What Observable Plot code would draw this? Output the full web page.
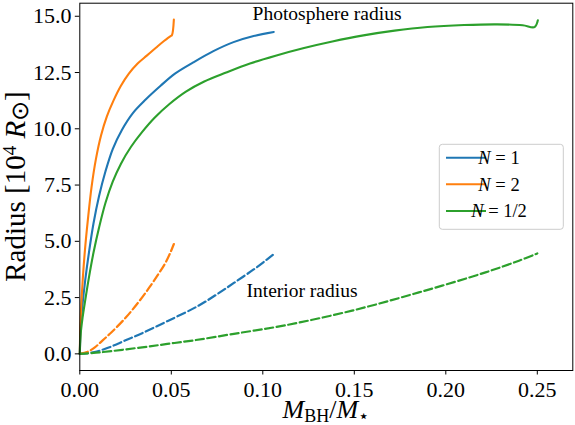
<!DOCTYPE html>
<html>
<head>
<meta charset="utf-8">
<script src="https://cdn.jsdelivr.net/npm/d3@7"></script>
<script src="https://cdn.jsdelivr.net/npm/@observablehq/plot@0.6"></script>
<style>
  html, body { margin: 0; padding: 0; background: white; overflow: hidden; }
  svg { display: block; }
  svg, svg text, svg tspan { font-family: "Liberation Serif", "Times New Roman", serif !important; }
</style>
</head>
<body>
<div id="chart"></div>
<script>
// ---- data ----
const seriesNames = ["N=1", "N=2", "N=1/2"];
const legendValues = ["1", "2", "1/2"];
const seriesColors = ["#1f77b4", "#ff7f0e", "#2ca02c"];
const xTicks = [0, 0.05, 0.10, 0.15, 0.20, 0.25];
const yTicks = [0, 2.5, 5, 7.5, 10, 12.5, 15];

// photosphere radius (solid), [M_BH/M_star, radius / 1e4 Rsun]
const photoN1 = [[0,0],[0.0005,1.2],[0.0015,2.2],[0.003,3.3],[0.005,4.5],[0.0075,5.8],[0.0105,7.0],[0.014,8.1],[0.018,9.1],[0.023,9.95],[0.029,10.7],[0.036,11.3],[0.044,11.9],[0.052,12.45],[0.062,12.95],[0.073,13.45],[0.084,13.85],[0.095,14.12],[0.106,14.3]];
const photoN2 = [[0,0],[0.0003,1.2],[0.0008,2.2],[0.0016,3.3],[0.0028,4.6],[0.0044,5.95],[0.0064,7.4],[0.0088,8.65],[0.0116,9.7],[0.0148,10.55],[0.0184,11.25],[0.0224,11.9],[0.0268,12.45],[0.0316,12.9],[0.0366,13.25],[0.0416,13.6],[0.0460,13.9],[0.0496,14.12],[0.0503,14.15],[0.0514,14.85]];
const photoNhalf = [[0,0],[0.0005,0.9],[0.0015,1.6],[0.003,2.4],[0.005,3.4],[0.0075,4.5],[0.0105,5.6],[0.014,6.7],[0.018,7.65],[0.0225,8.45],[0.028,9.2],[0.034,9.85],[0.041,10.5],[0.049,11.1],[0.058,11.65],[0.068,12.1],[0.080,12.5],[0.093,12.9],[0.107,13.25],[0.122,13.58],[0.138,13.88],[0.155,14.15],[0.172,14.36],[0.19,14.52],[0.21,14.61],[0.228,14.64],[0.242,14.6],[0.2485,14.52],[0.2503,14.82]];

// interior radius (dashed)
const interiorN1 = [[0,0],[0.0080,0.08],[0.0158,0.28],[0.0250,0.6],[0.0341,0.92],[0.0478,1.45],[0.0640,2.1],[0.0750,2.65],[0.0842,3.15],[0.0950,3.75],[0.1024,4.2],[0.1060,4.43]];
const interiorN2 = [[0,0],[0.0045,0.1],[0.0084,0.3],[0.0125,0.6],[0.0172,0.95],[0.0250,1.6],[0.0321,2.3],[0.0380,2.95],[0.0430,3.55],[0.0465,4.0],[0.0495,4.5],[0.0514,4.88]];
const interiorNhalf = [[0,0],[0.0113,0.07],[0.0341,0.29],[0.0478,0.44],[0.0623,0.6],[0.0842,0.89],[0.1124,1.27],[0.1488,1.92],[0.1853,2.73],[0.2217,3.62],[0.2400,4.14],[0.2500,4.46]];

const annotations = [
  {x: 0.0944, y: 15.09, text: "Photosphere radius"},
  {x: 0.0911, y: 2.79, text: "Interior radius"}
];

// ---- build rows ----
const photo = [photoN1, photoN2, photoNhalf];
const interior = [interiorN1, interiorN2, interiorNhalf];
const toRows = (arr, s) => arr.map(([x, y]) => ({x, y, series: s}));
const FONT = "Liberation Serif";

const marks = [];
seriesNames.forEach((s, i) => {
  marks.push(Plot.line(toRows(photo[i], s), {x: "x", y: "y", stroke: "series", strokeWidth: 2.1, curve: "catmull-rom"}));
  marks.push(Plot.line(toRows(interior[i], s), {x: "x", y: "y", stroke: "series", strokeWidth: 2.2, strokeDasharray: "8.2,3.5", curve: "catmull-rom"}));
});

const svg = Plot.plot({
  width: 575,
  height: 425,
  marginLeft: 79.3,
  marginRight: 2.7,
  marginTop: 2.7,
  marginBottom: 55,
  style: {fontFamily: FONT, background: "white", color: "black"},
  x: {domain: [0, 0.2694]},
  y: {domain: [-0.74, 15.58]},
  color: {domain: seriesNames, range: seriesColors},
  marks: [
    ...marks,
    Plot.text(annotations, {x: "x", y: "y", text: "text", textAnchor: "start", fontSize: 19.5, fontFamily: FONT, fill: "black"}),
    Plot.axisX({ticks: xTicks, tickFormat: d3.format(".2f"), tickSize: 4.5, tickPadding: 6.5, fontSize: 22, fontFamily: FONT, label: null, stroke: "black", fill: "black"}),
    Plot.axisY({ticks: yTicks, tickFormat: d3.format(".1f"), tickSize: 4.5, tickPadding: 3.8, fontSize: 22, fontFamily: FONT, label: null, stroke: "black", fill: "black"}),
    Plot.frame({stroke: "black", strokeWidth: 1})
  ]
});

const s = d3.select(svg);

// y axis label
const yl = s.append("text")
  .attr("transform", "translate(24.5,186.5) rotate(-90)")
  .attr("text-anchor", "middle")
  .attr("font-family", FONT)
  .attr("font-size", 29)
  .attr("fill", "black");
yl.append("tspan").text("Radius [10");
yl.append("tspan").attr("font-size", 19).attr("dy", -9).text("4");
yl.append("tspan").attr("dy", 9).text(" ");
yl.append("tspan").attr("font-style", "italic").text("R");
yl.append("tspan").attr("font-size", 24).attr("dy", 3).text("\u2299");
yl.append("tspan").attr("dy", -3).text("]");

// x axis label
const xl = s.append("text")
  .attr("x", 325.8).attr("y", 418.3)
  .attr("text-anchor", "middle")
  .attr("font-family", FONT)
  .attr("font-size", 26)
  .attr("fill", "black");
xl.append("tspan").attr("font-style", "italic").text("M");
xl.append("tspan").attr("font-size", 18).attr("dy", 4).text("BH");
xl.append("tspan").attr("dy", -4).text("/");
xl.append("tspan").attr("font-style", "italic").text("M");
xl.append("tspan").attr("font-size", 18).attr("dy", 4).text("\u22C6");

// legend
const lg = s.append("g");
lg.append("rect")
  .attr("x", 439.3).attr("y", 144.3).attr("width", 124).attr("height", 85).attr("rx", 3)
  .attr("fill", "white").attr("fill-opacity", 0.8).attr("stroke", "#cccccc");
seriesNames.forEach((name, i) => {
  const yy = 157.7 + i * 26.65;
  lg.append("line").attr("x1", 446).attr("x2", 486).attr("y1", yy).attr("y2", yy)
    .attr("stroke", seriesColors[i]).attr("stroke-width", 2);
  const t = lg.append("text").attr("x", 499).attr("y", yy + 6.3)
    .attr("font-family", FONT).attr("font-size", 18.5).attr("fill", "black");
  t.append("tspan").attr("font-style", "italic").text("N");
  t.append("tspan").text(" = " + legendValues[i]);
});

document.getElementById("chart").appendChild(svg);
</script>
</body>
</html>
